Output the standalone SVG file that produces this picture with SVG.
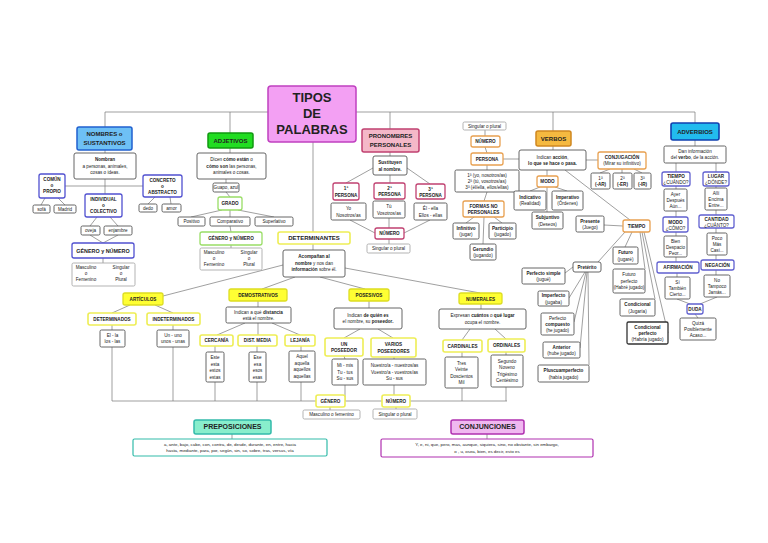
<svg xmlns="http://www.w3.org/2000/svg" width="768" height="543" viewBox="0 0 768 543">
<style>
text{font-family:"Liberation Sans",Arial,sans-serif;text-anchor:middle;fill:#222}
.s{font-size:4.6px}
.h{font-size:6px;font-weight:bold}
.b{font-weight:bold}
rect{fill:#fff;stroke:#555;stroke-width:0.9}
.bl{stroke:#5050d0;stroke-width:1.3}
.gr{stroke:#9d6;stroke-width:1.3}
.pk{stroke:#c04070;stroke-width:1.3}
.or{stroke:#e8a050;stroke-width:1.3}
.pu{stroke:#6060d0;stroke-width:1.3}
.ye{stroke:#eeee55;stroke-width:1.6}
.yf{fill:#ffff33;stroke:#dddd22;stroke-width:1.3}
.lt{stroke:#aaa}
#con line{stroke:#777;stroke-width:0.7}
</style>
<rect x="0" y="0" width="768" height="543" style="fill:#fff;stroke:none"/>
<g id="con">
<line x1="105" y1="112" x2="695" y2="112"/><line x1="105" y1="112" x2="105" y2="127"/><line x1="230" y1="112" x2="230" y2="133"/><line x1="390" y1="112" x2="390" y2="129"/><line x1="553" y1="112" x2="553" y2="131"/><line x1="695" y1="112" x2="695" y2="123"/><line x1="313" y1="142" x2="313" y2="232"/>
<line x1="105" y1="150" x2="105" y2="153"/><line x1="105" y1="179" x2="105" y2="194"/><line x1="65" y1="186" x2="143" y2="186"/>
<line x1="45" y1="198" x2="41" y2="205"/><line x1="58" y1="198" x2="65" y2="205"/><line x1="155" y1="197" x2="148" y2="204"/><line x1="170" y1="197" x2="171" y2="204"/>
<line x1="97" y1="217" x2="90" y2="226"/><line x1="110" y1="217" x2="118" y2="226"/><line x1="90" y1="235" x2="103" y2="243"/><line x1="118" y1="235" x2="103" y2="243"/><line x1="103" y1="258" x2="103" y2="263"/>
<line x1="230" y1="148" x2="230" y2="153"/><line x1="226" y1="179" x2="226" y2="183"/><line x1="226" y1="192" x2="230" y2="197"/><line x1="222" y1="210" x2="191" y2="217"/><line x1="230" y1="210" x2="230" y2="217"/><line x1="238" y1="210" x2="274" y2="217"/><line x1="230" y1="226" x2="231" y2="232"/><line x1="231" y1="245" x2="231" y2="248"/>
<line x1="390" y1="152" x2="390" y2="156"/><line x1="373" y1="168" x2="346" y2="183"/><line x1="390" y1="175" x2="390" y2="183"/><line x1="407" y1="168" x2="430" y2="184"/><line x1="350" y1="220" x2="375" y2="233"/><line x1="389" y1="218" x2="389" y2="228"/><line x1="430" y1="220" x2="404" y2="233"/><line x1="389" y1="239" x2="389" y2="244"/>
<line x1="553" y1="146" x2="553" y2="150"/><line x1="503" y1="159" x2="519" y2="159"/><line x1="485" y1="130" x2="485" y2="136"/><line x1="485" y1="147" x2="487" y2="153"/><line x1="487" y1="165" x2="487" y2="170"/><line x1="487" y1="192" x2="484" y2="201"/><line x1="474" y1="217" x2="466" y2="223"/><line x1="494" y1="217" x2="502" y2="223"/><line x1="484" y1="217" x2="483" y2="244"/>
<line x1="547" y1="170" x2="547" y2="176"/><line x1="540" y1="187" x2="530" y2="191"/><line x1="555" y1="187" x2="567" y2="191"/><line x1="547" y1="187" x2="547" y2="212"/>
<line x1="586" y1="160" x2="598" y2="160"/><line x1="610" y1="169" x2="600" y2="173"/><line x1="622" y1="169" x2="622" y2="173"/><line x1="634" y1="169" x2="642" y2="173"/>
<line x1="565" y1="170" x2="630" y2="220"/><line x1="604" y1="225" x2="623" y2="226"/>
<line x1="632" y1="232" x2="625" y2="247"/><line x1="625" y1="232" x2="598" y2="262"/><line x1="640" y1="232" x2="645" y2="269"/><line x1="642" y1="232" x2="655" y2="299"/><line x1="644" y1="232" x2="668" y2="333"/>
<line x1="573" y1="267" x2="565" y2="273"/><line x1="585" y1="272" x2="569" y2="298"/><line x1="586" y1="272" x2="574" y2="322"/><line x1="587" y1="272" x2="580" y2="348"/><line x1="588" y1="272" x2="589" y2="365"/>
<line x1="695" y1="140" x2="695" y2="146"/><line x1="676" y1="163" x2="676" y2="172"/><line x1="716" y1="163" x2="716" y2="172"/><line x1="676" y1="186" x2="676" y2="189"/><line x1="676" y1="211" x2="676" y2="217"/><line x1="676" y1="232" x2="676" y2="236"/><line x1="676" y1="257" x2="676" y2="262"/><line x1="677" y1="273" x2="677" y2="277"/>
<line x1="716" y1="186" x2="716" y2="188"/><line x1="716" y1="210" x2="716" y2="215"/><line x1="716" y1="228" x2="716" y2="233"/><line x1="716" y1="255" x2="716" y2="260"/><line x1="716" y1="270" x2="716" y2="275"/><line x1="677" y1="299" x2="690" y2="304"/><line x1="717" y1="297" x2="700" y2="304"/><line x1="695" y1="314" x2="698" y2="318"/>
<line x1="313" y1="244" x2="313" y2="250"/><line x1="283" y1="265" x2="163" y2="296"/><line x1="295" y1="277" x2="262" y2="289"/><line x1="320" y1="277" x2="365" y2="289"/><line x1="345" y1="268" x2="480" y2="293"/>
<line x1="130" y1="305" x2="112" y2="313"/><line x1="155" y1="305" x2="173" y2="313"/><line x1="112" y1="325" x2="112" y2="330"/><line x1="173" y1="325" x2="173" y2="330"/>
<line x1="258" y1="301" x2="258" y2="307"/><line x1="245" y1="323" x2="217" y2="335"/><line x1="258" y1="323" x2="258" y2="335"/><line x1="272" y1="323" x2="300" y2="335"/><line x1="215" y1="346" x2="215" y2="352"/><line x1="257" y1="346" x2="257" y2="352"/><line x1="301" y1="346" x2="301" y2="351"/>
<line x1="369" y1="301" x2="369" y2="308"/><line x1="360" y1="329" x2="344" y2="338"/><line x1="378" y1="329" x2="393" y2="338"/><line x1="344" y1="356" x2="345" y2="359"/><line x1="394" y1="357" x2="394" y2="359"/>
<line x1="481" y1="304" x2="481" y2="309"/><line x1="470" y1="329" x2="462" y2="340"/><line x1="495" y1="329" x2="506" y2="339"/><line x1="462" y1="352" x2="462" y2="357"/><line x1="506" y1="352" x2="506" y2="355"/>
<line x1="112" y1="401" x2="507" y2="401"/><line x1="112" y1="347" x2="112" y2="401"/><line x1="173" y1="347" x2="173" y2="401"/><line x1="215" y1="382" x2="215" y2="401"/><line x1="257" y1="382" x2="257" y2="401"/><line x1="301" y1="382" x2="301" y2="401"/><line x1="345" y1="385" x2="345" y2="401"/><line x1="394" y1="385" x2="394" y2="401"/><line x1="462" y1="388" x2="462" y2="401"/><line x1="506" y1="387" x2="506" y2="401"/>
<line x1="330" y1="407" x2="330" y2="410"/><line x1="396" y1="407" x2="396" y2="409"/><line x1="232" y1="434" x2="232" y2="439"/><line x1="487" y1="434" x2="487" y2="439"/>
</g>
<g id="root"><rect x="268" y="86" width="88" height="56" rx="3" style="fill:#f3a0f3;stroke:#c040c0;stroke-width:1.5"/><text x="312" y="102" style="font-size:13px;font-weight:bold">TIPOS</text><text x="312" y="118" style="font-size:13px;font-weight:bold">DE</text><text x="312" y="134" style="font-size:13px;font-weight:bold">PALABRAS</text></g>
<g id="nombres"><rect x="77" y="127" width="55" height="23" rx="2" style="fill:#6ec0f5;stroke:#2060d0;stroke-width:1.5"/><text class="h" x="104.5" y="136">NOMBRES o</text><text class="h" x="104.5" y="145">SUSTANTIVOS</text></g>
<g id="nombran"><rect x="74" y="153" width="62" height="26" rx="2"/><text class="s b" x="105" y="161">Nombran</text><text class="s" x="105" y="167.5">a personas, animales,</text><text class="s" x="105" y="174">cosas o ideas.</text></g>
<g id="comun"><rect class="bl" x="39" y="174" width="26" height="24" rx="2"/><text class="s b" x="52" y="181">COMÚN</text><text class="s b" x="52" y="187">o</text><text class="s b" x="52" y="193">PROPIO</text></g>
<g id="sofa"><rect x="33" y="205" width="17" height="8" rx="1.5"/><text class="s" x="41.5" y="210.7">sofá</text></g>
<g id="madrid"><rect x="54" y="205" width="22" height="8" rx="1.5"/><text class="s" x="65" y="210.7">Madrid</text></g>
<g id="individual"><rect class="bl" x="85" y="194" width="37" height="23" rx="2"/><text class="s b" x="103.5" y="201">INDIVIDUAL</text><text class="s b" x="103.5" y="207">o</text><text class="s b" x="103.5" y="213">COLECTIVO</text></g>
<g id="concreto"><rect class="bl" x="143" y="175" width="39" height="22" rx="2"/><text class="s b" x="162.5" y="182">CONCRETO</text><text class="s b" x="162.5" y="188">o</text><text class="s b" x="162.5" y="194">ABSTRACTO</text></g>
<g id="dedo"><rect x="139" y="204" width="18" height="8" rx="1.5"/><text class="s" x="148" y="209.7">dedo</text></g>
<g id="amor"><rect x="162" y="204" width="19" height="8" rx="1.5"/><text class="s" x="171.5" y="209.7">amor</text></g>
<g id="oveja"><rect x="81" y="226" width="19" height="9" rx="1.5"/><text class="s" x="90.5" y="232.2">oveja</text></g>
<g id="enjambre"><rect x="104" y="226" width="28" height="9" rx="1.5"/><text class="s" x="118" y="232.2">enjambre</text></g>
<g id="genum1"><rect class="bl" x="72" y="243" width="62" height="15" rx="2"/><text class="s b" x="103" y="252.5" style="font-size:5.4px">GÉNERO y NÚMERO</text></g>
<g id="mf1"><rect class="lt" x="72" y="263" width="63" height="23" rx="1.5"/><text class="s" x="86" y="269">Masculino</text><text class="s" x="86" y="275">o</text><text class="s" x="86" y="281">Femenino</text><text class="s" x="121" y="269">Singular</text><text class="s" x="121" y="275">o</text><text class="s" x="121" y="281">Plural</text></g>
<g id="adjetivos"><rect x="208" y="133" width="45" height="15" rx="2" style="fill:#22dd22;stroke:#119911;stroke-width:1.5"/><text class="h" x="230.5" y="142.8">ADJETIVOS</text></g>
<g id="dicen"><rect x="197" y="153" width="69" height="26" rx="2"/><text class="s" x="231.5" y="161"><tspan>Dicen </tspan><tspan class="b">cómo están</tspan><tspan> o</tspan></text><text class="s" x="231.5" y="167.5"><tspan class="b">cómo son</tspan><tspan> las personas,</tspan></text><text class="s" x="231.5" y="174">animales o cosas.</text></g>
<g id="guapo"><rect x="213" y="183" width="26" height="9" rx="1.5"/><text class="s" x="226" y="189.2">Guapo, azul</text></g>
<g id="grado"><rect class="gr" x="218" y="197" width="24" height="13" rx="2"/><text class="s b" x="230" y="205.3">GRADO</text></g>
<g id="positivo"><rect x="178" y="217" width="27" height="9" rx="1.5"/><text class="s" x="191.5" y="223.2">Positivo</text></g>
<g id="comparativo"><rect x="210" y="217" width="40" height="9" rx="1.5"/><text class="s" x="230" y="223.2">Comparativo</text></g>
<g id="superlativo"><rect x="255" y="217" width="38" height="9" rx="1.5"/><text class="s" x="274" y="223.2">Superlativo</text></g>
<g id="genum2"><rect class="gr" x="200" y="232" width="62" height="13" rx="2"/><text class="s b" x="231" y="240.3">GÉNERO y NÚMERO</text></g>
<g id="mf2"><rect class="lt" x="200" y="248" width="62" height="22" rx="1.5"/><text class="s" x="214" y="254">Masculino</text><text class="s" x="214" y="260">o</text><text class="s" x="214" y="266">Femenino</text><text class="s" x="249" y="254">Singular</text><text class="s" x="249" y="260">o</text><text class="s" x="249" y="266">Plural</text></g>
<g id="pronombres"><rect x="362" y="129" width="57" height="23" rx="2" style="fill:#f4b8c8;stroke:#c04070;stroke-width:1.5"/><text class="h" x="390.5" y="138">PRONOMBRES</text><text class="h" x="390.5" y="147">PERSONALES</text></g>
<g id="sustituyen"><rect x="373" y="156" width="34" height="19" rx="2"/><text class="s b" x="390" y="164">Sustituyen</text><text class="s b" x="390" y="170.5">al nombre.</text></g>
<g id="p1"><rect class="pk" x="333" y="183" width="26" height="17" rx="2"/><text class="s b" x="346" y="190">1ª</text><text class="s b" x="346" y="196.5">PERSONA</text></g>
<g id="p2"><rect class="pk" x="374" y="183" width="31" height="16" rx="2"/><text class="s b" x="389.5" y="189.5">2ª</text><text class="s b" x="389.5" y="196">PERSONA</text></g>
<g id="p3"><rect class="pk" x="416" y="184" width="29" height="15" rx="2"/><text class="s b" x="430.5" y="190.5">3ª</text><text class="s b" x="430.5" y="197">PERSONA</text></g>
<g id="yo"><rect x="331" y="203" width="35" height="17" rx="1.5"/><text class="s" x="348.5" y="210">Yo</text><text class="s" x="348.5" y="216.5">Nosotros/as</text></g>
<g id="tu"><rect x="373" y="201" width="32" height="17" rx="1.5"/><text class="s" x="389" y="208">Tú</text><text class="s" x="389" y="214.5">Vosotros/as</text></g>
<g id="el"><rect x="414" y="203" width="33" height="17" rx="1.5"/><text class="s" x="430.5" y="210">Él - ella</text><text class="s" x="430.5" y="216.5">Ellos - ellas</text></g>
<g id="numpro"><rect class="pk" x="375" y="228" width="29" height="11" rx="2"/><text class="s b" x="389.5" y="235.3">NÚMERO</text></g>
<g id="singpro"><rect class="lt" x="367" y="244" width="43" height="9" rx="1.5"/><text class="s" x="388.5" y="250.2">Singular o plural</text></g>
<g id="verbos"><rect x="536" y="131" width="35" height="15" rx="2" style="fill:#f5b940;stroke:#d08820;stroke-width:1.5"/><text class="h" x="553.5" y="140.8">VERBOS</text></g>
<g id="indican"><rect x="519" y="150" width="67" height="20" rx="2"/><text class="s" x="552.5" y="158.5"><tspan>Indican </tspan><tspan class="b">acción</tspan><tspan>,</tspan></text><text class="s" x="552.5" y="165"><tspan class="b">lo que se hace o pasa.</tspan></text></g>
<g id="singv"><rect class="lt" x="463" y="122" width="43" height="8" rx="1.5"/><text class="s" x="484.5" y="127.7">Singular o plural</text></g>
<g id="numv"><rect class="or" x="471" y="136" width="29" height="11" rx="2"/><text class="s b" x="485.5" y="143.3">NÚMERO</text></g>
<g id="persona"><rect class="or" x="471" y="153" width="32" height="12" rx="2"/><text class="s b" x="487" y="160.8">PERSONA</text></g>
<g id="pers123"><rect x="455" y="170" width="64" height="22" rx="1.5"/><text class="s" x="487" y="176.5">1ª (yo, nosotros/as)</text><text class="s" x="487" y="182.5">2ª (tú, vosotros/as)</text><text class="s" x="487" y="188.5">3ª (él/ella, ellos/ellas)</text></g>
<g id="formas"><rect class="or" x="463" y="201" width="41" height="16" rx="2"/><text class="s b" x="483.5" y="207.8">FORMAS NO</text><text class="s b" x="483.5" y="214">PERSONALES</text></g>
<g id="infinitivo"><rect x="453" y="223" width="26" height="16" rx="1.5"/><text class="s b" x="466" y="229.8">Infinitivo</text><text class="s" x="466" y="236">(jugar)</text></g>
<g id="participio"><rect x="489" y="223" width="27" height="16" rx="1.5"/><text class="s b" x="502.5" y="229.8">Participio</text><text class="s" x="502.5" y="236">(jugado)</text></g>
<g id="gerundio"><rect x="470" y="244" width="26" height="16" rx="1.5"/><text class="s b" x="483" y="250.8">Gerundio</text><text class="s" x="483" y="257">(jugando)</text></g>
<g id="modo"><rect class="or" x="537" y="176" width="21" height="11" rx="2"/><text class="s b" x="547.5" y="183.3">MODO</text></g>
<g id="indicativo"><rect x="514" y="191" width="32" height="19" rx="1.5"/><text class="s b" x="530" y="199">Indicativo</text><text class="s" x="530" y="205.3">(Realidad)</text></g>
<g id="imperativo"><rect x="552" y="191" width="31" height="19" rx="1.5"/><text class="s b" x="567.5" y="199">Imperativo</text><text class="s" x="567.5" y="205.3">(Órdenes)</text></g>
<g id="subjuntivo"><rect x="532" y="212" width="31" height="17" rx="1.5"/><text class="s b" x="547.5" y="219.3">Subjuntivo</text><text class="s" x="547.5" y="225.5">(Deseos)</text></g>
<g id="conjugacion"><rect class="or" x="598" y="152" width="48" height="17" rx="2"/><text class="s b" x="622" y="159">CONJUGACIÓN</text><text class="s" x="622" y="165.3">(Mirar su infinitivo)</text></g>
<g id="ar"><rect x="591" y="173" width="19" height="16" rx="1.5"/><text class="s" x="600.5" y="179.8">1ª</text><text class="s b" x="600.5" y="186">(-AR)</text></g>
<g id="er"><rect x="613" y="173" width="19" height="16" rx="1.5"/><text class="s" x="622.5" y="179.8">2ª</text><text class="s b" x="622.5" y="186">(-ER)</text></g>
<g id="ir"><rect x="634" y="173" width="17" height="16" rx="1.5"/><text class="s" x="642.5" y="179.8">3ª</text><text class="s b" x="642.5" y="186">(-IR)</text></g>
<g id="presente"><rect x="576" y="216" width="28" height="16" rx="1.5"/><text class="s b" x="590" y="222.8">Presente</text><text class="s" x="590" y="229">(Juego)</text></g>
<g id="tiempo"><rect class="or" x="623" y="220" width="27" height="12" rx="2"/><text class="s b" x="636.5" y="227.8">TIEMPO</text></g>
<g id="futuro"><rect x="613" y="247" width="25" height="17" rx="1.5"/><text class="s b" x="625.5" y="254.3">Futuro</text><text class="s" x="625.5" y="260.5">(jugaré)</text></g>
<g id="futperf"><rect x="613" y="269" width="32" height="24" rx="1.5"/><text class="s" x="629" y="276.3">Futuro</text><text class="s" x="629" y="282.5">perfecto</text><text class="s" x="629" y="288.7">(Habré jugado)</text></g>
<g id="condicional"><rect x="620" y="299" width="35" height="17" rx="1.5"/><text class="s b" x="637.5" y="306.3">Condicional</text><text class="s" x="637.5" y="312.5">(Jugaría)</text></g>
<g id="condperf"><rect x="627" y="322" width="41" height="22" rx="1.5" style="stroke-width:1.3;stroke:#333"/><text class="s b" x="647.5" y="329">Condicional</text><text class="s b" x="647.5" y="335">perfecto</text><text class="s" x="647.5" y="341">(Habría jugado)</text></g>
<g id="preterito"><rect x="573" y="262" width="28" height="10" rx="2"/><text class="s b" x="587" y="268.8">Pretérito</text></g>
<g id="perfsimple"><rect x="522" y="268" width="43" height="16" rx="1.5"/><text class="s b" x="543.5" y="274.8">Perfecto simple</text><text class="s" x="543.5" y="281">(jugué)</text></g>
<g id="imperfecto"><rect x="538" y="291" width="31" height="15" rx="1.5"/><text class="s b" x="553.5" y="297.3">Imperfecto</text><text class="s" x="553.5" y="303.5">(jugaba)</text></g>
<g id="perfcomp"><rect x="541" y="313" width="33" height="22" rx="1.5"/><text class="s" x="557.5" y="320">Perfecto</text><text class="s b" x="557.5" y="326">compuesto</text><text class="s" x="557.5" y="332">(he jugado)</text></g>
<g id="anterior"><rect x="543" y="342" width="37" height="16" rx="1.5"/><text class="s b" x="561.5" y="348.8">Anterior</text><text class="s" x="561.5" y="355">(hube jugado)</text></g>
<g id="plusc"><rect x="538" y="365" width="51" height="17" rx="1.5"/><text class="s b" x="563.5" y="372.3">Pluscuamperfecto</text><text class="s" x="563.5" y="378.5">(había jugado)</text></g>
<g id="adverbios"><rect x="671" y="123" width="48" height="17" rx="2" style="fill:#22bbee;stroke:#1040b0;stroke-width:1.6"/><text class="h" x="695" y="133.8">ADVERBIOS</text></g>
<g id="dan"><rect x="664" y="146" width="62" height="17" rx="1.5"/><text class="s" x="695" y="153">Dan información</text><text class="s" x="695" y="159.3"><tspan>del </tspan><tspan class="b">verbo</tspan><tspan>, de la acción.</tspan></text></g>
<g id="atiempo"><rect class="pu" x="662" y="172" width="28" height="14" rx="2"/><text class="s b" x="676" y="178.3">TIEMPO</text><text class="s" x="676" y="184">¿CUÁNDO?</text></g>
<g id="alugar"><rect class="pu" x="703" y="172" width="26" height="14" rx="2"/><text class="s b" x="716" y="178.3">LUGAR</text><text class="s" x="716" y="184">¿DÓNDE?</text></g>
<g id="ayer"><rect x="664" y="189" width="23" height="22" rx="1.5"/><text class="s" x="675.5" y="196">Ayer</text><text class="s" x="675.5" y="202">Después</text><text class="s" x="675.5" y="208">Aún...</text></g>
<g id="alli"><rect x="705" y="188" width="22" height="22" rx="1.5"/><text class="s" x="716" y="195">Allí</text><text class="s" x="716" y="201">Encima</text><text class="s" x="716" y="207">Entre...</text></g>
<g id="amodo"><rect class="pu" x="663" y="217" width="25" height="15" rx="2"/><text class="s b" x="675.5" y="223.8">MODO</text><text class="s" x="675.5" y="229.5">¿CÓMO?</text></g>
<g id="acantidad"><rect class="pu" x="699" y="215" width="35" height="13" rx="2"/><text class="s b" x="716.5" y="221">CANTIDAD</text><text class="s" x="716.5" y="226.5">¿CUÁNTO?</text></g>
<g id="bien"><rect x="664" y="236" width="23" height="21" rx="1.5"/><text class="s" x="675.5" y="243">Bien</text><text class="s" x="675.5" y="249">Despacio</text><text class="s" x="675.5" y="255">Peor...</text></g>
<g id="poco"><rect x="707" y="233" width="20" height="22" rx="1.5"/><text class="s" x="717" y="240">Poco</text><text class="s" x="717" y="246">Más</text><text class="s" x="717" y="252">Casi...</text></g>
<g id="afirmacion"><rect class="pu" x="657" y="262" width="42" height="11" rx="2"/><text class="s b" x="678" y="269.3">AFIRMACIÓN</text></g>
<g id="negacion"><rect class="pu" x="701" y="260" width="33" height="10" rx="2"/><text class="s b" x="717.5" y="266.8">NEGACIÓN</text></g>
<g id="si"><rect x="665" y="277" width="25" height="22" rx="1.5"/><text class="s" x="677.5" y="284">Sí</text><text class="s" x="677.5" y="290">También</text><text class="s" x="677.5" y="296">Cierto...</text></g>
<g id="no"><rect x="704" y="275" width="26" height="22" rx="1.5"/><text class="s" x="717" y="282">No</text><text class="s" x="717" y="288">Tampoco</text><text class="s" x="717" y="294">Jamás...</text></g>
<g id="duda"><rect class="pu" x="687" y="304" width="16" height="10" rx="2"/><text class="s b" x="695" y="310.8">DUDA</text></g>
<g id="quiza"><rect x="680" y="318" width="36" height="22" rx="1.5"/><text class="s" x="698" y="325">Quizá</text><text class="s" x="698" y="331">Posiblemente</text><text class="s" x="698" y="337">Acaso...</text></g>
<g id="determinantes"><rect class="ye" x="278" y="232" width="72" height="12" rx="2"/><text class="h" x="314" y="240.3">DETERMINANTES</text></g>
<g id="acompanan"><rect x="283" y="250" width="62" height="27" rx="2"/><text class="s b" x="314" y="258">Acompañan al</text><text class="s" x="314" y="264.5"><tspan class="b">nombre</tspan><tspan> y nos dan</tspan></text><text class="s" x="314" y="271"><tspan class="b">información</tspan><tspan> sobre él.</tspan></text></g>
<g id="articulos"><rect class="yf" x="123" y="293" width="40" height="12" rx="2"/><text class="s b" x="143" y="301">ARTÍCULOS</text></g>
<g id="determinados"><rect class="ye" x="88" y="313" width="48" height="12" rx="2"/><text class="s b" x="112" y="321">DETERMINADOS</text></g>
<g id="indeterminados"><rect class="ye" x="147" y="313" width="53" height="12" rx="2"/><text class="s b" x="173.5" y="321">INDETERMINADOS</text></g>
<g id="ella"><rect x="100" y="330" width="25" height="17" rx="1.5"/><text class="s" x="112.5" y="337">El - la</text><text class="s" x="112.5" y="343.3">los - las</text></g>
<g id="ununo"><rect x="157" y="330" width="32" height="17" rx="1.5"/><text class="s" x="173" y="337">Un - uno</text><text class="s" x="173" y="343.3">unos - unas</text></g>
<g id="demostrativos"><rect class="yf" x="229" y="289" width="58" height="12" rx="2"/><text class="s b" x="258" y="297">DEMOSTRATIVOS</text></g>
<g id="distancia"><rect x="226" y="307" width="65" height="16" rx="1.5"/><text class="s" x="258.5" y="313.8"><tspan>Indican a qué </tspan><tspan class="b">distancia</tspan></text><text class="s" x="258.5" y="320">está el nombre.</text></g>
<g id="cercania"><rect class="ye" x="200" y="335" width="33" height="11" rx="2"/><text class="s b" x="216.5" y="342.3">CERCANÍA</text></g>
<g id="distmedia"><rect class="ye" x="238" y="335" width="39" height="11" rx="2"/><text class="s b" x="257.5" y="342.3">DIST. MEDIA</text></g>
<g id="lejania"><rect class="ye" x="285" y="335" width="30" height="11" rx="2"/><text class="s b" x="300" y="342.3">LEJANÍA</text></g>
<g id="este"><rect x="206" y="352" width="18" height="30" rx="1.5"/><text class="s" x="215" y="359">Este</text><text class="s" x="215" y="365.5">esta</text><text class="s" x="215" y="372">estos</text><text class="s" x="215" y="378.5">estas</text></g>
<g id="ese"><rect x="249" y="352" width="17" height="30" rx="1.5"/><text class="s" x="257.5" y="359">Ese</text><text class="s" x="257.5" y="365.5">esa</text><text class="s" x="257.5" y="372">esos</text><text class="s" x="257.5" y="378.5">esas</text></g>
<g id="aquel"><rect x="289" y="351" width="26" height="31" rx="1.5"/><text class="s" x="302" y="358">Aquel</text><text class="s" x="302" y="364.5">aquella</text><text class="s" x="302" y="371">aquellos</text><text class="s" x="302" y="377.5">aquellas</text></g>
<g id="posesivos"><rect class="yf" x="349" y="289" width="40" height="12" rx="2"/><text class="s b" x="369" y="297">POSESIVOS</text></g>
<g id="dequien"><rect x="334" y="308" width="68" height="21" rx="2"/><text class="s" x="368" y="316.5"><tspan>Indican </tspan><tspan class="b">de quién es</tspan></text><text class="s" x="368" y="323"><tspan>el nombre, su </tspan><tspan class="b">poseedor.</tspan></text></g>
<g id="unposeedor"><rect class="ye" x="325" y="338" width="38" height="18" rx="2"/><text class="s b" x="344" y="345.5">UN</text><text class="s b" x="344" y="352">POSEEDOR</text></g>
<g id="varios"><rect class="ye" x="371" y="338" width="45" height="19" rx="2"/><text class="s b" x="393.5" y="346">VARIOS</text><text class="s b" x="393.5" y="352.5">POSEEDORES</text></g>
<g id="mimis"><rect x="332" y="359" width="26" height="26" rx="1.5"/><text class="s" x="345" y="367">Mi - mis</text><text class="s" x="345" y="373.5">Tu - tus</text><text class="s" x="345" y="380">Su - sus</text></g>
<g id="nuestro"><rect x="363" y="359" width="63" height="26" rx="1.5"/><text class="s" x="394.5" y="367">Nuestro/a - nuestros/as</text><text class="s" x="394.5" y="373.5">Vuestro/a - vuestros/as</text><text class="s" x="394.5" y="380">Su - sus</text></g>
<g id="numerales"><rect class="yf" x="459" y="293" width="43" height="11" rx="2"/><text class="s b" x="480.5" y="300.5">NUMERALES</text></g>
<g id="expresan"><rect x="439" y="309" width="87" height="20" rx="2"/><text class="s" x="482.5" y="317"><tspan>Expresan </tspan><tspan class="b">cuántos</tspan><tspan> o </tspan><tspan class="b">qué lugar</tspan></text><text class="s" x="482.5" y="323.5">ocupa el nombre.</text></g>
<g id="cardinales"><rect class="ye" x="443" y="340" width="39" height="12" rx="2"/><text class="s b" x="462.5" y="347.8">CARDINALES</text></g>
<g id="ordinales"><rect class="ye" x="488" y="339" width="37" height="13" rx="2"/><text class="s b" x="506.5" y="347.3">ORDINALES</text></g>
<g id="tres"><rect x="445" y="357" width="33" height="31" rx="1.5"/><text class="s" x="461.5" y="364.5">Tres</text><text class="s" x="461.5" y="371">Veinte</text><text class="s" x="461.5" y="377.5">Doscientos</text><text class="s" x="461.5" y="384">Mil</text></g>
<g id="segundo"><rect x="491" y="355" width="32" height="32" rx="1.5"/><text class="s" x="507" y="362.5">Segundo</text><text class="s" x="507" y="369">Noveno</text><text class="s" x="507" y="375.5">Trigésimo</text><text class="s" x="507" y="382">Centésimo</text></g>
<g id="genero"><rect class="ye" x="316" y="395" width="29" height="12" rx="2"/><text class="s b" x="330.5" y="402.8">GÉNERO</text></g>
<g id="mascfem"><rect class="lt" x="303" y="410" width="57" height="9" rx="1.5"/><text class="s" x="331.5" y="416.2">Masculino o femenino</text></g>
<g id="numero"><rect class="ye" x="382" y="395" width="28" height="12" rx="2"/><text class="s b" x="396" y="402.8">NÚMERO</text></g>
<g id="singplur"><rect class="lt" x="373" y="409" width="44" height="10" rx="1.5"/><text class="s" x="395" y="415.7">Singular o plural</text></g>
<g id="preposiciones"><rect x="194" y="420" width="77" height="14" rx="2" style="fill:#88eecc;stroke:#33bbaa;stroke-width:1.5"/><text class="h" x="232.5" y="429.3" style="font-size:7px">PREPOSICIONES</text></g>
<g id="prepbox"><rect x="133" y="439" width="194" height="17" rx="1.5" style="stroke:#33bbaa;stroke-width:1.2"/><text class="s" x="230" y="446" style="font-size:4.4px">a, ante, bajo, cabe, con, contra, de, desde, durante, en, entre, hacia</text><text class="s" x="230" y="452.3" style="font-size:4.4px">hasta, mediante, para, por, según, sin, so, sobre, tras, versus, vía</text></g>
<g id="conjunciones"><rect x="451" y="420" width="73" height="14" rx="2" style="fill:#f0b8f0;stroke:#b030b0;stroke-width:1.5"/><text class="h" x="487.5" y="429.3" style="font-size:7px">CONJUNCIONES</text></g>
<g id="conjbox"><rect x="381" y="439" width="212" height="18" rx="1.5" style="stroke:#b030b0;stroke-width:1.2"/><text class="s" x="487" y="446.3" style="font-size:4.4px">Y, e, ni, que, pero, mas, aunque, siquiera, sino, no obstante, sin embargo,</text><text class="s" x="487" y="452.8" style="font-size:4.4px">o , u, osea, bien, es decir, esto es</text></g>
</svg>
